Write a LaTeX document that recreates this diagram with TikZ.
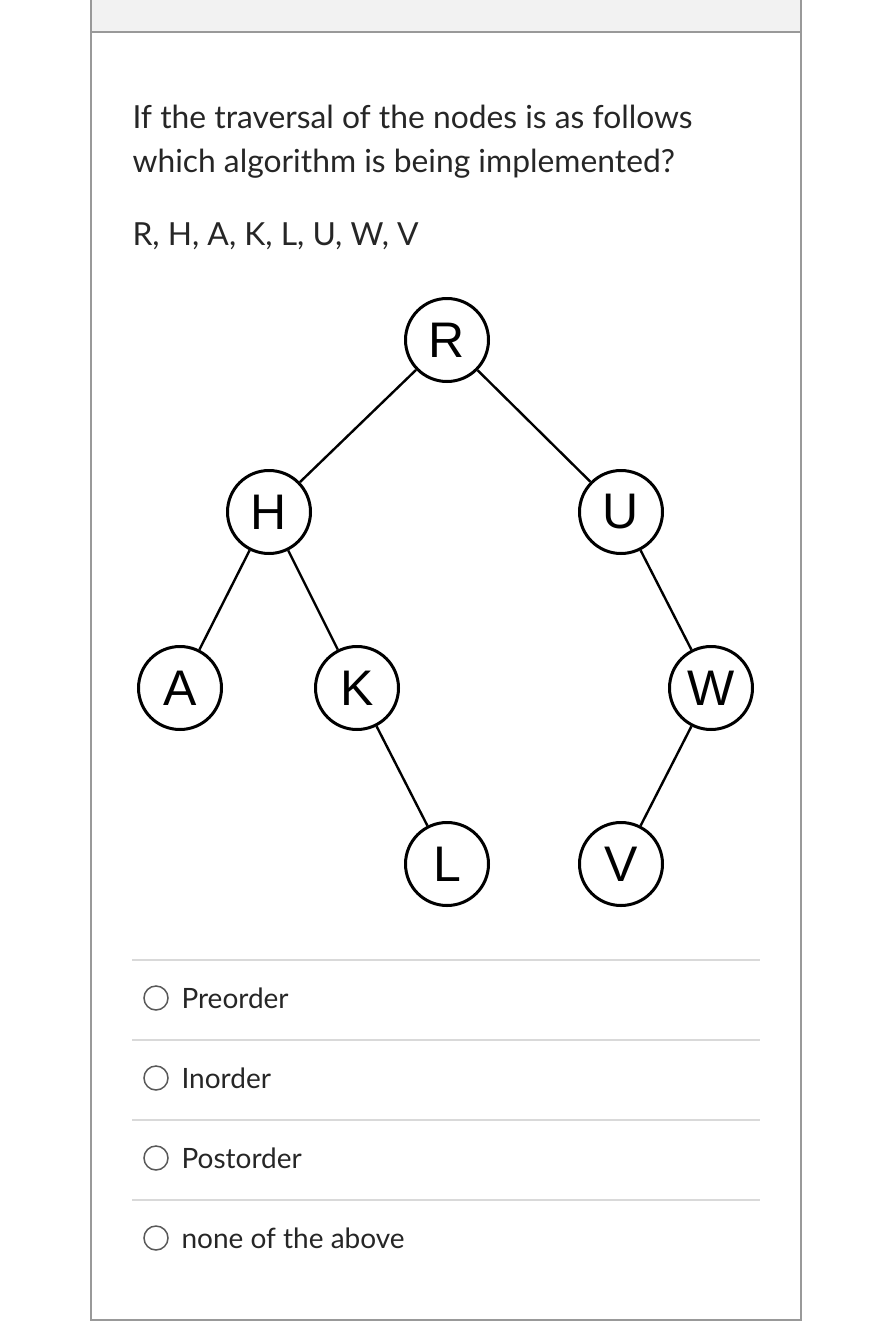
\documentclass[tikz,border=0pt]{standalone}
\usepackage{fontspec}
\setmainfont{Lato}
\newfontfamily\arial{Liberation Sans}
\begin{document}
\begin{tikzpicture}[x=1pt,y=-1pt,
  tn/.style={circle,draw,line width=3pt,minimum size=83pt,inner sep=0pt,font=\arial\fontsize{50}{50}\selectfont,fill=white},
  ed/.style={line width=2.4pt},
  sep/.style={draw=black!15,line width=1.2pt},
  radio/.style={circle,draw=black!65,line width=1.5pt,minimum size=24pt,inner sep=0pt},
  opt/.style={anchor=west,font=\fontsize{28}{28}\selectfont,text=black!85}]
\useasboundingbox (0,0) rectangle (878,1328);
\fill[black!5] (91,0) rectangle (801,32);
\draw[black!40,line width=1.5pt] (91,0) -- (91,1320) -- (801,1320) -- (801,0);
\draw[black!40,line width=2pt] (91,32) -- (801,32);
\node[anchor=west,font=\fontsize{31.8}{31.8}\selectfont,text=black!85] (q1) at (129,117) {If the traversal of the nodes is as follows};
\node[anchor=west,font=\fontsize{31.8}{31.8}\selectfont,text=black!85] (q2) at (129,164) {which algorithm is being implemented?};
\node[anchor=west,font=\fontsize{31.8}{31.8}\selectfont,text=black!85] (q3) at (129,236) {R, H, A, K, L, U, W, V};
\node[tn] (R) at (447,340) {R};
\node[tn] (H) at (269,512) {H};
\node[tn] (U) at (621,512) {U};
\node[tn] (A) at (180,688) {A};
\node[tn] (K) at (357,688) {K};
\node[tn] (W) at (711,688) {W};
\node[tn] (L) at (447,864) {L};
\node[tn] (V) at (621,864) {V};
\draw[ed] (R) -- (H);
\draw[ed] (R) -- (U);
\draw[ed] (H) -- (A);
\draw[ed] (H) -- (K);
\draw[ed] (K) -- (L);
\draw[ed] (U) -- (W);
\draw[ed] (W) -- (V);
\foreach \y in {960,1040,1120,1200} \draw[sep] (132,\y) -- (760,\y);
\node[radio] (r1) at (156,998) {};
\node[opt] (o1) at (178,998) {Preorder};
\node[radio] (r2) at (156,1078) {};
\node[opt] (o2) at (178,1078) {Inorder};
\node[radio] (r3) at (156,1158) {};
\node[opt] (o3) at (178,1158) {Postorder};
\node[radio] (r4) at (156,1238) {};
\node[opt] (o4) at (178,1238) {none of the above};
\end{tikzpicture}
\end{document}
